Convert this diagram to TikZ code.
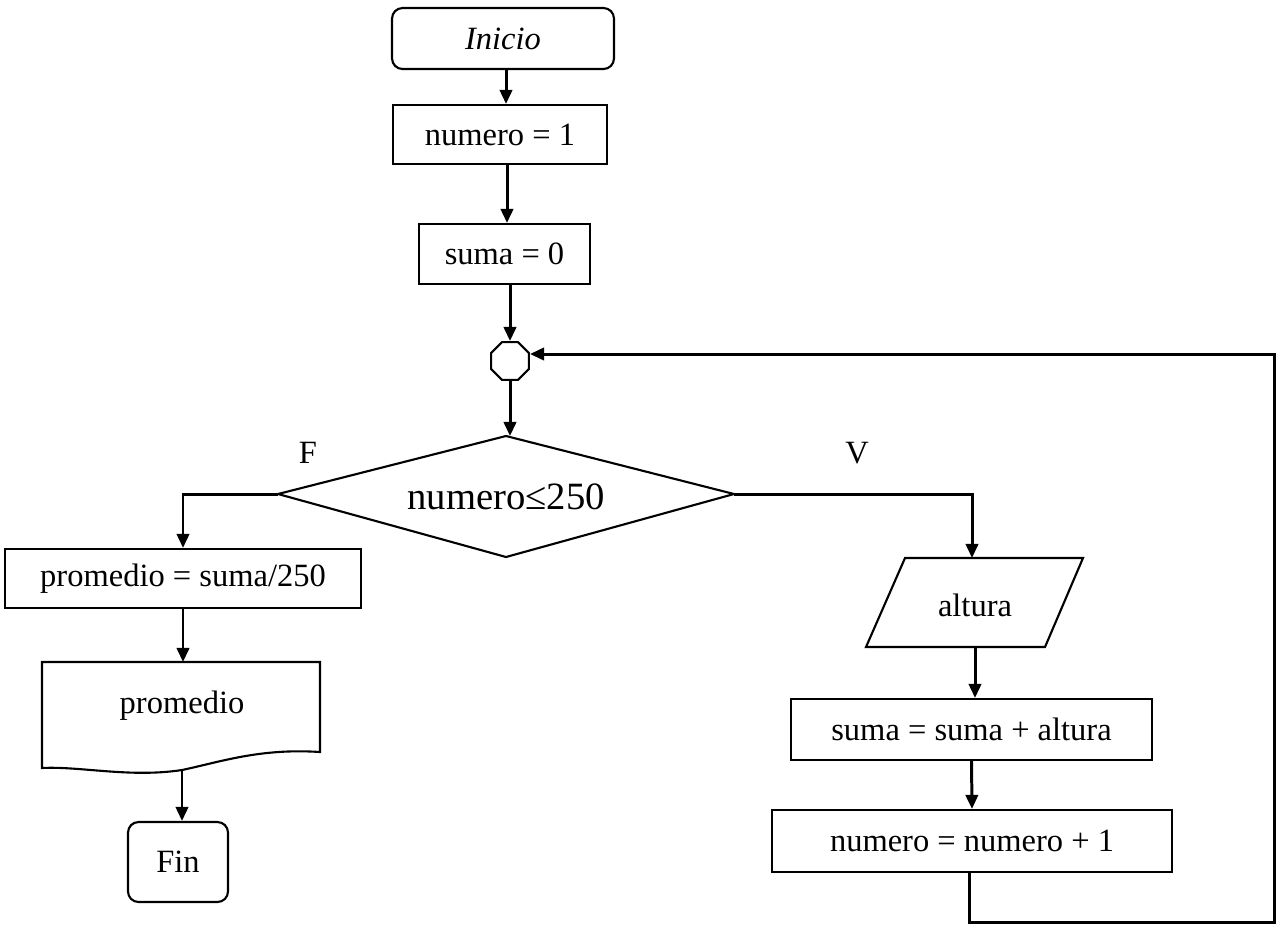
\documentclass[tikz,border=0pt]{standalone}
\usepackage{fontspec}
\setmainfont{Liberation Serif}
\usetikzlibrary{shapes.geometric,arrows.meta}
\begin{document}
\begin{tikzpicture}[x=0.02cm,y=-0.02cm,
  box/.style={draw,line width=1.2pt,inner sep=0pt,font=\fontsize{18.5}{20}\selectfont},
  rbox/.style={box,rounded corners=6pt},
  arr/.style={line width=1.7pt,-{Triangle[length=8pt,width=7pt]}},
  ln/.style={line width=1.7pt},
  lbl/.style={font=\fontsize{18.5}{20}\selectfont}]
\useasboundingbox (0,0) rectangle (1277,927);
\node[rbox,minimum width=4.44cm,minimum height=1.22cm] (ini) at (503,38.5) {\itshape Inicio};
\node[box,minimum width=4.28cm,minimum height=1.18cm] (n1) at (500,134.5) {numero = 1};
\node[box,minimum width=3.42cm,minimum height=1.2cm] (s0) at (504.5,254) {suma = 0};
\node[draw,line width=1.2pt,regular polygon,regular polygon sides=8,minimum size=0.82cm,inner sep=0pt] (con) at (510,361) {};
% diamond
\coordinate (dL) at (278,494); \coordinate (dR) at (734,494);
\coordinate (dT) at (506,436); \coordinate (dB) at (506,557);
\draw[line width=1.2pt] (dL) -- (dT) -- (dR) -- (dB) -- cycle;
\node[font=\fontsize{22}{24}\selectfont] (cond) at (506,497) {numero≤250};
\node[lbl] (F) at (308,453) {F};
\node[lbl] (V) at (857,453) {V};
% left
\node[box,minimum width=7.12cm,minimum height=1.18cm] (prom) at (183,578.5) {promedio = suma/250};
\draw[line width=1.2pt] (42,662) -- (320,662) -- (320,752)
  .. controls (260,748) and (220,762) .. (182,770)
  .. controls (130,778) and (80,766) .. (42,768) -- cycle;
\node[lbl] (doc) at (182,706) {promedio};
\coordinate (docB) at (182,771);
\node[rbox,minimum width=2.0cm,minimum height=1.6cm] (fin) at (178,862) {Fin};
% right
\draw[line width=1.2pt] (905,558) -- (1083,558) -- (1045,647) -- (866,647) -- cycle;
\node[lbl] (alt) at (975,605) {altura};
\coordinate (altT) at (972,558); \coordinate (altB) at (975,647);
\node[box,minimum width=7.22cm,minimum height=1.22cm] (sa) at (971.5,729.5) {suma = suma + altura};
\node[box,minimum width=8.0cm,minimum height=1.24cm] (na) at (972,841) {numero = numero + 1};
\coordinate (conIn) at (530,354);
% connectors
\draw[arr] (ini.south -| 506,0) -- (506,0 |- n1.north);
\draw[arr] (n1.south -| 507,0) -- (507,0 |- s0.north);
\draw[arr] (s0.south -| 510,0) -- (con.north);
\draw[arr] (con.south) -- (dT -| con.south);
\draw[arr] (dL) -| (prom.north);
\draw[arr] (prom.south) -- (183,662);
\draw[arr] (docB) -- (182,0 |- fin.north);
\draw[arr] (dR) -| (altT);
\draw[arr] (altB) -- (975,0 |- sa.north);
\draw[arr] (sa.south) -- (na.north);
\draw[arr] (na.south -| 969,0) |- (1274,922) |- (conIn);
\end{tikzpicture}
\end{document}
